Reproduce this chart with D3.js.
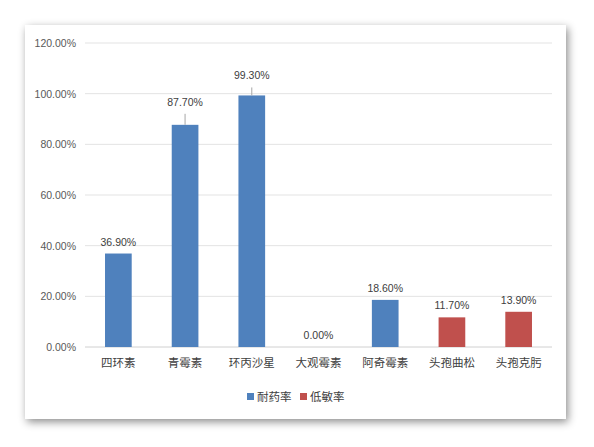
<!DOCTYPE html>
<html>
<head>
<meta charset="utf-8">
<script src="https://cdn.jsdelivr.net/npm/d3@7"></script>
<style>
  body { margin: 0; background: #fff; }
  text { font-family: "Liberation Sans", "Noto Sans CJK SC", sans-serif; }
  .cjk { font-family: "Noto Sans CJK SC", sans-serif; }
</style>
</head>
<body>
<div id="chart"></div>
<script>
// drug names
var drugs = ["四环素", "青霉素", "环丙沙星", "大观霉素", "阿奇霉素", "头孢曲松", "头孢克肟"];
// 耐药率 (resistance), null where not shown
var resistance = [36.9, 87.7, 99.3, 0.0, 18.6, null, null];
// 低敏率 (reduced sensitivity)
var lowSens = [null, null, null, null, null, 11.7, 13.9];
var seriesNames = ["耐药率", "低敏率"];
var yTicks = [0, 20, 40, 60, 80, 100, 120];

var W = 594, H = 447;
var margin = {top: 43, right: 42, bottom: 100, left: 85},
    width = W - margin.left - margin.right,
    height = H - margin.top - margin.bottom;

var colors = ["#4f81bd", "#c0504d"];

var svg = d3.select("#chart").append("svg")
    .attr("width", W)
    .attr("height", H);

// shadow behind chart frame
var defs = svg.append("defs");
var filt = defs.append("filter").attr("id", "shadow")
    .attr("x", "-10%").attr("y", "-10%").attr("width", "120%").attr("height", "120%");
filt.append("feDropShadow")
    .attr("dx", 2).attr("dy", 3).attr("stdDeviation", 4)
    .attr("flood-color", "#000").attr("flood-opacity", 0.45);

svg.append("rect")
    .attr("x", 25).attr("y", 25)
    .attr("width", 541).attr("height", 394)
    .attr("fill", "#fff")
    .attr("filter", "url(#shadow)");

var g = svg.append("g")
    .attr("transform", "translate(" + margin.left + "," + margin.top + ")");

var x = d3.scaleBand().domain(drugs).range([0, width]).padding(0);
var y = d3.scaleLinear().domain([0, 120]).range([height, 0]);

// gridlines
g.selectAll(".grid")
    .data(yTicks)
    .enter().append("line")
    .attr("x1", 0).attr("x2", width)
    .attr("y1", function(d) { return y(d); })
    .attr("y2", function(d) { return y(d); })
    .attr("stroke", function(d) { return d === 0 ? "#d0d0d0" : "#e3e3e3"; })
    .attr("stroke-width", 1);

// y axis labels
var yAxis = d3.axisLeft(y).tickValues(yTicks)
    .tickFormat(function(d) { return d.toFixed(2) + "%"; })
    .tickSize(0).tickPadding(9);
g.append("g").call(yAxis)
    .call(function(s) { s.select(".domain").remove(); })
    .selectAll("text")
    .attr("fill", "#595959")
    .style("font-size", "10.5px");

// x axis labels
var xAxis = d3.axisBottom(x).tickSize(0).tickPadding(12);
g.append("g")
    .attr("transform", "translate(0," + height + ")")
    .call(xAxis)
    .call(function(s) { s.select(".domain").remove(); })
    .selectAll("text")
    .attr("class", "cjk")
    .attr("fill", "#404040")
    .style("font-size", "11.5px");

var barW = x.bandwidth() * 0.4;

// build bar list from both series
var bars = [];
drugs.forEach(function(name, i) {
  if (resistance[i] != null) bars.push({name: name, i: i, v: resistance[i], s: 0});
  if (lowSens[i] != null) bars.push({name: name, i: i, v: lowSens[i], s: 1});
});

g.selectAll(".bar")
    .data(bars)
    .enter().append("rect")
    .attr("x", function(d) { return x(d.name) + (x.bandwidth() - barW) / 2; })
    .attr("y", function(d) { return y(d.v); })
    .attr("width", barW)
    .attr("height", function(d) { return height - y(d.v); })
    .attr("fill", function(d) { return colors[d.s]; });

// labels with leader lines on the tall bars
var leader = {1: 11, 2: 8};
bars.forEach(function(d) {
  var cx = x(d.name) + x.bandwidth() / 2;
  var top = y(d.v);
  var lift = leader[d.i] || 0;
  if (lift) {
    g.append("line")
      .attr("x1", cx).attr("x2", cx)
      .attr("y1", top).attr("y2", top - lift)
      .attr("stroke", "#a6a6a6");
  }
  g.append("text")
    .attr("x", cx)
    .attr("y", top - lift - 8)
    .attr("text-anchor", "middle")
    .attr("fill", "#404040")
    .style("font-size", "10.5px")
    .text(d.v.toFixed(2) + "%");
});

// legend
var legend = svg.append("g").attr("transform", "translate(247,397)");
seriesNames.forEach(function(n, k) {
  var lx = k * 53;
  legend.append("rect")
    .attr("x", lx).attr("y", -4)
    .attr("width", 7).attr("height", 7)
    .attr("fill", colors[k]);
  legend.append("text")
    .attr("class", "cjk")
    .attr("x", lx + 10).attr("y", 4)
    .attr("fill", "#404040")
    .style("font-size", "11.5px")
    .text(n);
});
</script>
</body>
</html>
